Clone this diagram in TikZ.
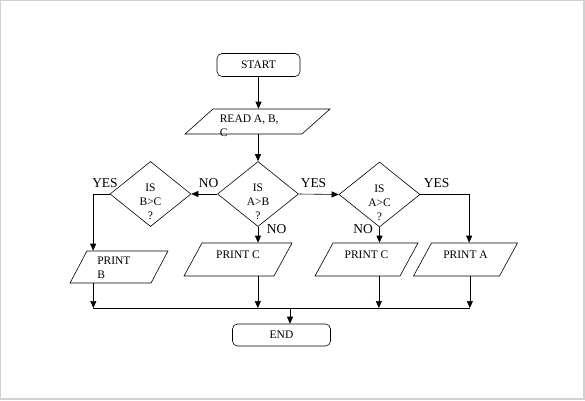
\documentclass[tikz,border=0pt]{standalone}
\usepackage{fontspec}
\setmainfont{Liberation Serif}
\usetikzlibrary{shapes.geometric,arrows.meta}
\begin{document}
\begin{tikzpicture}[x=1pt, y=-1pt,
  terminal/.style={draw, rounded corners=5pt, inner sep=0pt},
  io/.style={draw, rectangle, xslant=#1, minimum height=33pt, inner sep=0pt},
  io/.default=0.545,
  decision/.style={draw, diamond, minimum width=81pt, minimum height=65pt, inner sep=0pt},
  boxtext/.style={font=\fontsize{11.5}{14}\selectfont, inner sep=0pt},
  lbl/.style={font=\fontsize{13.5}{15}\selectfont, inner sep=0pt},
  flow/.style={-{Triangle[length=7pt,width=6pt]}, line width=0.6pt},
  line width=0.6pt]
\useasboundingbox (0,0) rectangle (585,400);
\draw[black!18, line width=1.2pt] (0.6,0.6) rectangle (584,399);
% shapes
\node (start) at (258.5, 65) [terminal, minimum width=83pt, minimum height=23pt] {};
\node (read) at (257.5, 121.5) [io=1.12, minimum width=117pt, minimum height=25pt] {};
\node (isab) at (258, 194) [decision] {};
\node (isbc) at (150.5, 194) [decision] {};
\node (isac) at (379.5, 194.5) [decision] {};
\node (printb) at (119, 267) [io=0.53, minimum width=81pt, minimum height=32pt] {};
\node (printc) at (238, 259.5) [io, minimum width=90pt] {};
\node (printcc) at (366.5, 259.5) [io, minimum width=85pt] {};
\node (printa) at (465.5, 259.5) [io, minimum width=86pt] {};
\node (end) at (281.5, 335) [terminal, minimum width=98pt, minimum height=22pt] {};
\coordinate (join) at (290, 308);
% texts
\node (start-txt) at (start) [boxtext] {START};
\node (read-txt) at (219.5, 114.5) [boxtext, anchor=north west, align=left] {READ A, B,\\C};
\node (isab-txt) at ([yshift=-8pt]isab.center) [boxtext, align=center] {IS\\A>B\\?};
\node (isbc-txt) at ([yshift=-8pt]isbc.center) [boxtext, align=center] {IS\\B>C\\?};
\node (isac-txt) at ([yshift=-8pt]isac.center) [boxtext, align=center] {IS\\A>C\\?};
\node (printb-txt) at (97, 256.5) [boxtext, anchor=north west, align=left] {PRINT\\B};
\node (printc-txt) at ([yshift=4.5pt]printc.center) [boxtext] {PRINT C};
\node (printcc-txt) at ([yshift=4.5pt]printcc.center) [boxtext] {PRINT C};
\node (printa-txt) at ([yshift=4.5pt]printa.center) [boxtext] {PRINT A};
\node (end-txt) at (end) [boxtext] {END};
% connectors
\draw [flow] (start.south) -- (start.south |- read.north);
\draw [flow] (isab.north |- read.south) -- (isab.north);
\draw [flow] (isab.west) -- (isbc.east);
\draw [flow] (isab.east) -- (isac.west);
\draw [flow] (isbc.west) -| ([xshift=-34.5pt]printb.north);
\draw [flow] (isab.south) -- (isab.south |- printc.north);
\draw [flow] (isac.south) -- (isac.south |- printcc.north);
\draw [flow] (isac.east) -| ([xshift=-5.5pt]printa.north);
\draw [flow] ([xshift=-17pt]printb.south) -- ([xshift=-17pt]printb.south |- join);
\draw [flow] ([xshift=29pt]printc.south) -- ([xshift=29pt]printc.south |- join);
\draw [flow] ([xshift=21.5pt]printcc.south) -- ([xshift=21.5pt]printcc.south |- join);
\draw [flow] ([xshift=13.5pt]printa.south) -- ([xshift=13.5pt]printa.south |- join);
\draw ([xshift=-17pt]printb.south |- join) -- ([xshift=13.5pt]printa.south |- join);
\draw [flow] (join) -- (join |- end.north);
% labels
\node (yes-bc) at (105, 183.5) [lbl] {YES};
\node (no-ab) at (208.5, 183.5) [lbl] {NO};
\node (yes-ab) at (313.5, 183.5) [lbl] {YES};
\node (no-ab-down) at (276.5, 229.5) [lbl] {NO};
\node (no-ac) at (363, 229.5) [lbl] {NO};
\node (yes-ac) at (436.5, 183.5) [lbl] {YES};
\end{tikzpicture}
\end{document}
